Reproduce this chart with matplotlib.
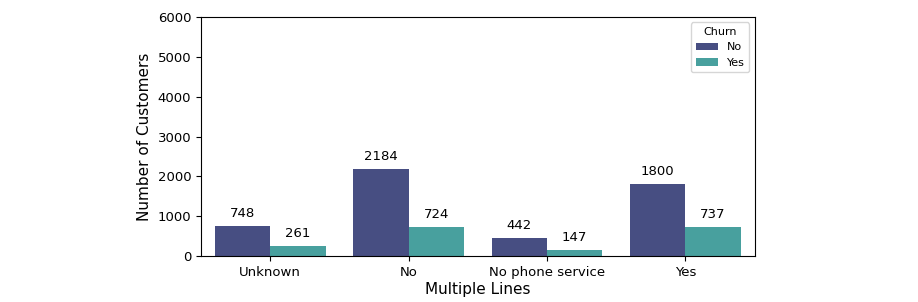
import numpy as np
import matplotlib.pyplot as plt

categories = ['Unknown', 'No', 'No phone service', 'Yes']
churn_no = [748, 2184, 442, 1800]
churn_yes = [261, 724, 147, 737]
colors = ['#474e82', '#48a09e']

fig = plt.figure(figsize=(9.18, 3.02), dpi=100)
ax = fig.add_axes([0.219, 0.152, 0.603, 0.792])

x = np.arange(len(categories))
w = 0.4
b1 = ax.bar(x - w / 2, churn_no, w, color=colors[0], label='No')
b2 = ax.bar(x + w / 2, churn_yes, w, color=colors[1], label='Yes')

for bars in (b1, b2):
    for b in bars:
        ax.annotate(f'{int(b.get_height())}', (b.get_x() + b.get_width() / 2, b.get_height()),
                    xytext=(0, 9), textcoords='offset points', ha='center', va='center', fontsize=9.5)

ax.set_xticks(x)
ax.set_xticklabels(categories, fontsize=9.5)
ax.tick_params(axis='y', labelsize=9.5)
ax.set_xlim(-0.5, 3.5)
ax.set_ylim(0, 6000)
ax.set_xlabel('Multiple Lines', fontsize=11, labelpad=2)
ax.set_ylabel('Number of Customers', fontsize=11)
ax.legend(title='Churn', loc='upper right', fontsize=8, title_fontsize=8)

fig.savefig('out.png', dpi=100)
